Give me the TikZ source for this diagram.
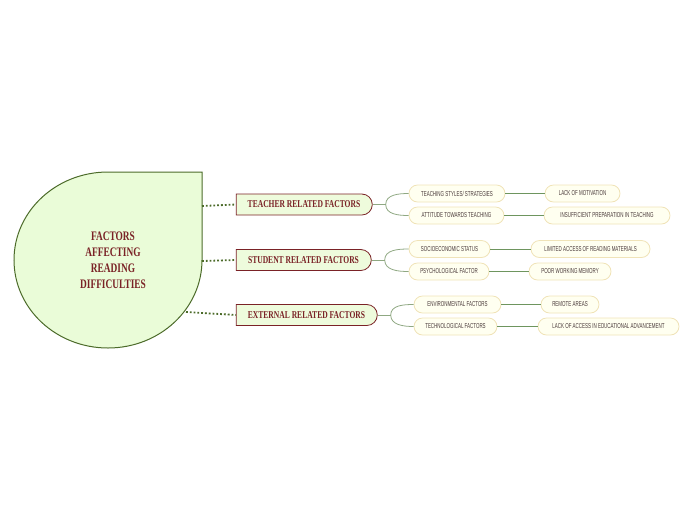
\documentclass[tikz,border=0pt]{standalone}
\usepackage{fontspec}
\usetikzlibrary{shapes.misc}
\newfontfamily\hdfont[FakeStretch=0.72]{Liberation Serif}
\newfontfamily\smfont[FakeStretch=0.62]{Liberation Sans}
\definecolor{dred}{HTML}{7A2226}
\definecolor{dgreen}{HTML}{4C6B2A}
\definecolor{cfill}{HTML}{EAFCD8}
\definecolor{mfill}{HTML}{EEFBDC}
\definecolor{pfill}{HTML}{FFFFF0}
\definecolor{pline}{HTML}{F0E3B8}
\definecolor{ptext}{HTML}{4A3A3A}
\definecolor{bline}{HTML}{8FA882}
\definecolor{gline}{HTML}{6E955E}
\tikzset{
  mainbox/.style={rounded rectangle, rounded rectangle west arc=none, draw=dred, fill=mfill,
    line width=0.8pt, minimum height=21pt, inner xsep=4pt, text=dred,
    font=\hdfont\bfseries\fontsize{10.5}{12}\selectfont},
  pill/.style={rounded rectangle, draw=pline, fill=pfill, line width=0.8pt,
    minimum height=17pt, inner xsep=2pt, text=ptext,
    font=\smfont\fontsize{7.2}{8}\selectfont},
  dotc/.style={draw=dgreen, line width=1.8pt, dotted},
  branch/.style={draw=bline, line width=0.8pt},
  leafc/.style={draw=gline, line width=0.8pt},
}
\begin{document}
\begin{tikzpicture}[x=1pt,y=-1pt]
\useasboundingbox (0,0) rectangle (696,520);
% central teardrop
\draw[dgreen, fill=cfill, line width=1pt]
  (202,172) -- (108,172) arc[start angle=270, end angle=0, x radius=94, y radius=88] -- cycle;
\node[text=dred, align=center, font=\hdfont\bfseries\fontsize{13}{16}\selectfont] (ctr) at (113,260)
  {FACTORS\\AFFECTING\\READING\\DIFFICULTIES};
\coordinate (o1) at (202,206);
\coordinate (o2) at (202,261);
\coordinate (o3) at (186,312);
% main nodes
\node[mainbox, minimum width=144pt] (t) at (304,204.5) {TEACHER RELATED FACTORS};
\node[mainbox, minimum width=143pt] (s) at (303.5,260) {STUDENT RELATED FACTORS};
\node[mainbox, minimum width=149pt] (e) at (306.5,315) {EXTERNAL RELATED FACTORS};
\draw[dotc] (o1) -- (t.west);
\draw[dotc] (o2) -- (s.west);
\draw[dotc] (o3) -- (e.west);
% children
\node[pill, minimum width=100pt] (c11) at (457,193.5) {TEACHING STYLES/ STRATEGIES};
\node[pill, minimum width=99pt] (c12) at (456.5,215.5) {ATTITUDE TOWARDS TEACHING};
\node[pill, minimum width=79pt] (g11) at (582.5,193.5) {LACK OF MOTIVATION};
\node[pill, minimum width=130pt] (g12) at (607,215.5) {INSUFFICIENT PREPARATION IN TEACHING};
\node[pill, minimum width=85pt] (c21) at (449.5,249) {SOCIOECONOMIC STATUS};
\node[pill, minimum width=84pt] (c22) at (449,271.5) {PSYCHOLOGICAL FACTOR};
\node[pill, minimum width=123pt] (g21) at (590.5,249) {LIMITED ACCESS OF READING MATERIALS};
\node[pill, minimum width=86pt] (g22) at (570,271.5) {POOR WORKING MEMORY};
\node[pill, minimum width=91pt] (c31) at (457.5,304.5) {ENVIRONMENTAL FACTORS};
\node[pill, minimum width=87pt] (c32) at (455.5,326.5) {TECHNOLOGICAL FACTORS};
\node[pill, minimum width=62pt] (g31) at (570,304.5) {REMOTE AREAS};
\node[pill, minimum width=145pt] (g32) at (608.5,326.5) {LACK OF ACCESS IN EDUCATIONAL ADVANCEMENT};
% branches
\coordinate (tj) at ([xshift=13pt]t.east);
\coordinate (sj) at ([xshift=13pt]s.east);
\coordinate (ej) at ([xshift=13pt]e.east);
\draw[branch] (t.east) -- (tj);
\draw[branch] (tj) to[out=90,in=180] (c11.west);
\draw[branch] (tj) to[out=-90,in=180] (c12.west);
\draw[branch] (s.east) -- (sj);
\draw[branch] (sj) to[out=90,in=180] (c21.west);
\draw[branch] (sj) to[out=-90,in=180] (c22.west);
\draw[branch] (e.east) -- (ej);
\draw[branch] (ej) to[out=90,in=180] (c31.west);
\draw[branch] (ej) to[out=-90,in=180] (c32.west);
% leaves
\draw[leafc] (c11.east) -- (g11.west);
\draw[leafc] (c12.east) -- (g12.west);
\draw[leafc] (c21.east) -- (g21.west);
\draw[leafc] (c22.east) -- (g22.west);
\draw[leafc] (c31.east) -- (g31.west);
\draw[leafc] (c32.east) -- (g32.west);
\end{tikzpicture}
\end{document}
